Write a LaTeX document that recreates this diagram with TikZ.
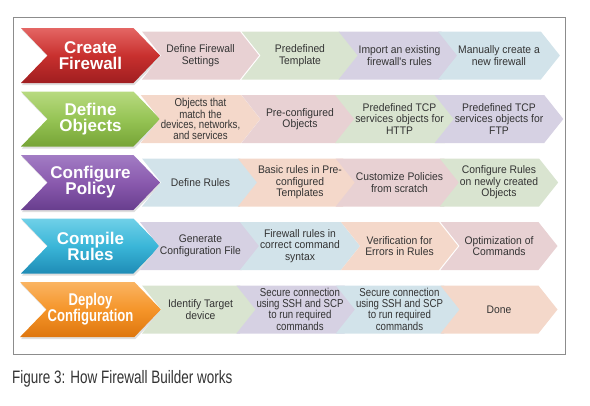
\documentclass[tikz,border=0pt]{standalone}
\usepackage{fontspec}
\setmainfont{Liberation Sans}
\newfontfamily\longfont[FakeStretch=0.77]{Liberation Sans}
\newfontfamily\stepfont[FakeStretch=0.94]{Liberation Sans}
\newfontfamily\thinfont[FakeStretch=0.84]{Liberation Sans}
\newfontfamily\capfont[FakeStretch=0.75]{Liberation Sans}
\usetikzlibrary{shapes.symbols, shadows}
\definecolor{framegrey}{HTML}{8C8C8C}
\definecolor{textgrey}{HTML}{333333}
\definecolor{mauve}{HTML}{E8D1D3}
\definecolor{sage}{HTML}{D9E4D0}
\definecolor{lavender}{HTML}{D6D1E3}
\definecolor{paleblue}{HTML}{D2E3EA}
\definecolor{peach}{HTML}{F4D8CA}
\tikzstyle{big step}=[
        signal,
        signal to = east,
        signal from = west,
        signal pointer angle = 92,
        minimum width = 139pt,
        minimum height = 55pt,
        inner sep = 1pt,
        align = center,
        text = white,
        drop shadow = {opacity = 0.25, shadow xshift = 1pt, shadow yshift = -2pt},
        font = \bfseries\fontsize{17}{16}\selectfont
    ]
\tikzstyle{small step}=[
    signal,
    signal to = east,
    signal from = west,
    signal pointer angle = 103,
    minimum width = 117pt,
    minimum height = 48pt,
    inner sep = 1pt,
    align = center,
    text = textgrey,
    font = \stepfont\fontsize{11}{11.5}\selectfont
]

\begin{document}
\begin{tikzpicture}[x=1pt, y=1pt, node distance={63.5pt}, dense/.style = {font = \thinfont\fontsize{11.5}{10.5}\selectfont}]
        \useasboundingbox (0,0) rectangle (590,-405);
        \draw[framegrey, line width = 0.8pt] (13,-17) rectangle (565,-354);

        \node[big step, top color = {rgb,255:red,228;green,102;blue,100}, bottom color = {rgb,255:red,160;green,30;blue,32}, middle color = {rgb,255:red,200;green,48;blue,46}] (1) at (90.5,-55.5) {Create\\Firewall};
        \node[big step, top color = {rgb,255:red,184;green,218;blue,128}, bottom color = {rgb,255:red,118;green,164;blue,54}, middle color = {rgb,255:red,150;green,196;blue,85}] (2) [below of = 1] {Define\\Objects};
        \node[big step, top color = {rgb,255:red,162;green,124;blue,196}, bottom color = {rgb,255:red,104;green,62;blue,142}, middle color = {rgb,255:red,138;green,90;blue,174}] (3) [below of = 2] {Configure\\Policy};
        \node[big step, top color = {rgb,255:red,112;green,208;blue,232}, bottom color = {rgb,255:red,30;green,140;blue,182}, middle color = {rgb,255:red,58;green,182;blue,216}] (4) [below of = 3] {Compile\\Rules};
        \node[big step, top color = {rgb,255:red,250;green,180;blue,98}, bottom color = {rgb,255:red,222;green,118;blue,14}, middle color = {rgb,255:red,245;green,149;blue,42}, font = \longfont\bfseries\fontsize{17}{16}\selectfont] (5) [below of = 4] {Deploy\\Configuration};

        \node[small step, fill = mauve, node distance = 110pt] (1a) [right of = 1] {Define Firewall\\Settings};
        \node[small step, fill = sage, node distance = 99.5pt] (1b) [right of = 1a] {Predefined\\Template};
        \node[small step, fill = lavender, node distance = 99.5pt] (1c) [right of = 1b] {Import an existing\\firewall's rules};
        \node[small step, fill = paleblue, node distance = 99.5pt] (1d) [right of = 1c] {Manually create a\\new firewall};

        \node[small step, dense, fill = peach, node distance = 110pt] (2a) [right of = 2] {Objects that\\match the\\devices, networks,\\and services};
        \node[small step, fill = mauve, node distance = 99.5pt] (2b) [right of = 2a] {Pre-configured\\Objects};
        \node[small step, fill = sage, node distance = 99.5pt] (2c) [right of = 2b] {Predefined TCP\\services objects for\\HTTP};
        \node[small step, fill = lavender, node distance = 99.5pt] (2d) [right of = 2c] {Predefined TCP\\services objects for\\FTP};

        \node[small step, fill = paleblue, node distance = 110pt] (3a) [right of = 3] {Define Rules};
        \node[small step, fill = peach, node distance = 99.5pt] (3b) [right of = 3a] {Basic rules in Pre-\\configured\\Templates};
        \node[small step, fill = mauve, node distance = 99.5pt] (3c) [right of = 3b] {Customize Policies\\from scratch};
        \node[small step, fill = sage, node distance = 99.5pt] (3d) [right of = 3c] {Configure Rules\\on newly created\\Objects};

        \node[small step, fill = lavender, node distance = 110pt] (4a) [right of = 4] {Generate\\Configuration File};
        \node[small step, fill = paleblue, node distance = 99.5pt] (4b) [right of = 4a] {Firewall rules in\\correct command\\syntax};
        \node[small step, fill = peach, node distance = 99.5pt] (4c) [right of = 4b] {Verification for\\Errors in Rules};
        \node[small step, fill = mauve, node distance = 99.5pt] (4d) [right of = 4c] {Optimization of\\Commands};

        \node[small step, fill = sage, node distance = 110pt] (5a) [right of = 5] {Identify Target\\device};
        \node[small step, dense, fill = lavender, node distance = 99.5pt] (5b) [right of = 5a] {Secure connection\\using SSH and SCP\\to run required\\commands};
        \node[small step, dense, fill = paleblue, node distance = 99.5pt] (5c) [right of = 5b] {Secure connection\\using SSH and SCP\\to run required\\commands};
        \node[small step, fill = peach, node distance = 99.5pt] (5d) [right of = 5c] {Done};

        \node[anchor = west, inner sep = 0pt, text = textgrey, font = \capfont\fontsize{18}{18}\selectfont] (caption) at (12,-379) {Figure 3: How Firewall Builder works};

    \end{tikzpicture}
\end{document}
